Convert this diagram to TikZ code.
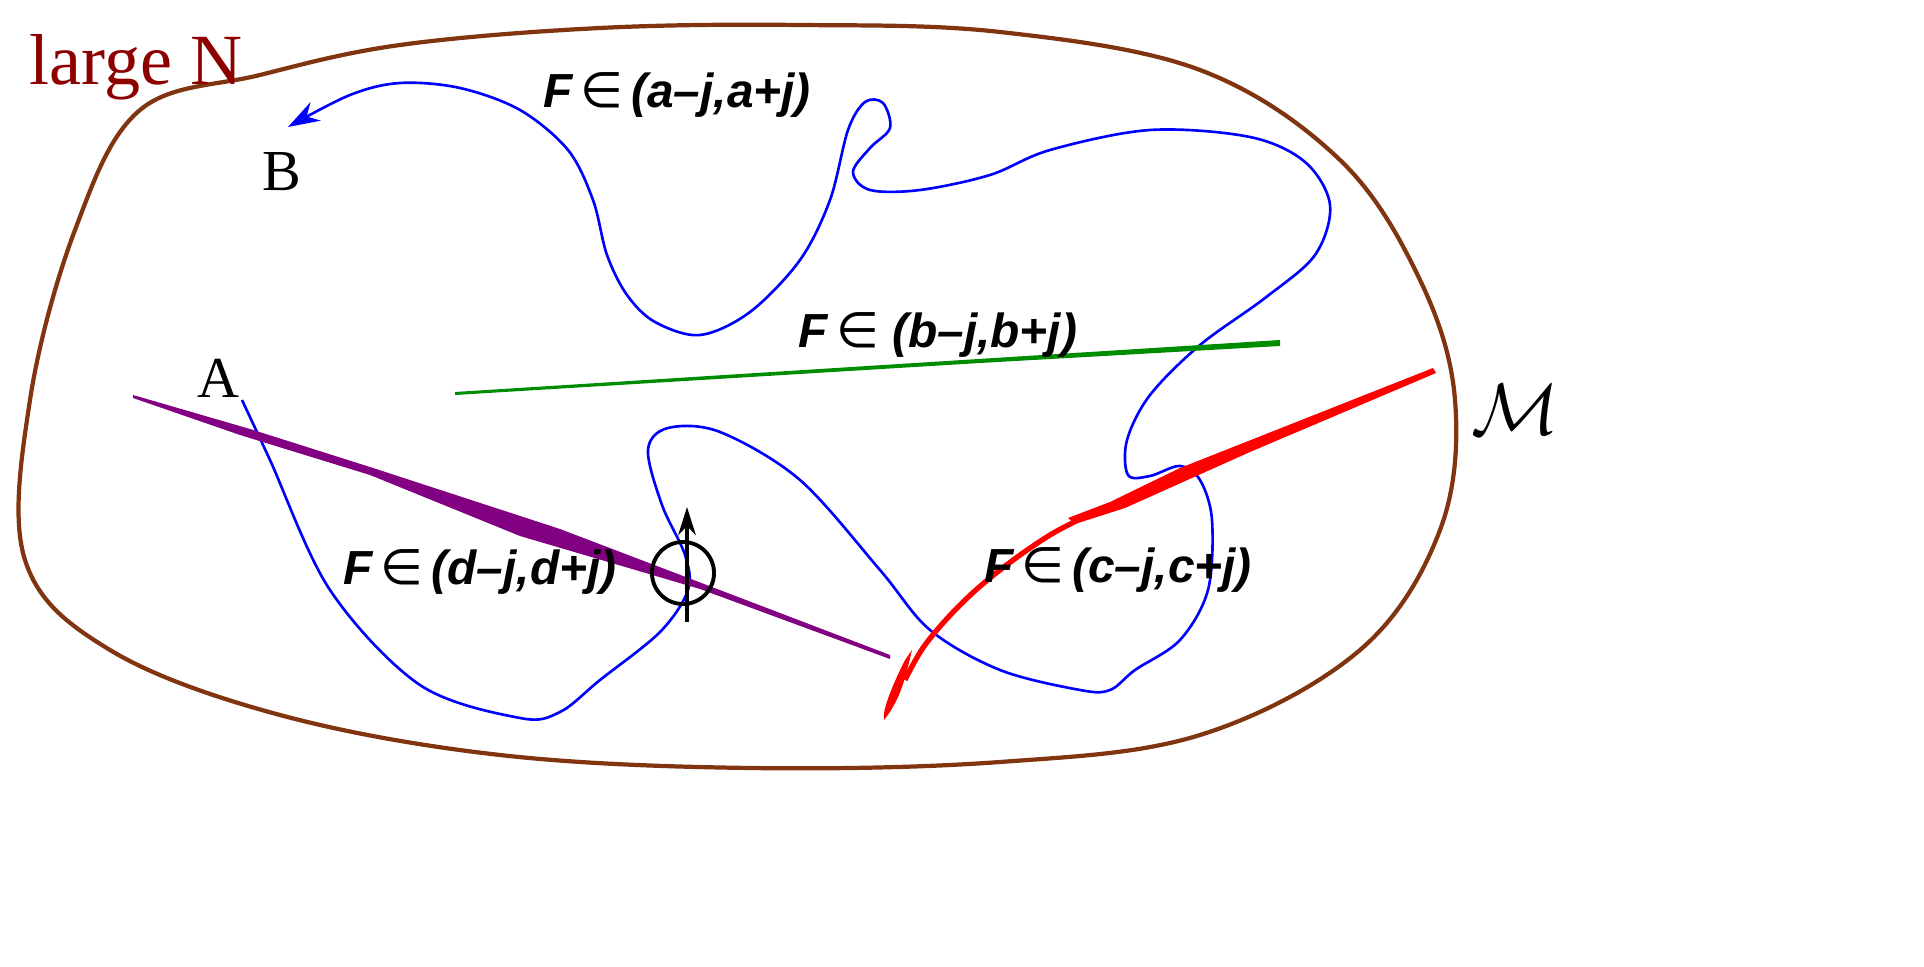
\documentclass[tikz,border=0pt]{standalone}
\usepackage{fontspec}
\setsansfont{Liberation Sans}
\setmainfont{Liberation Serif}
\newfontfamily\dvfont{DejaVu Sans}
\usepackage{amsmath}
\usetikzlibrary{arrows.meta}
\begin{document}
\begin{tikzpicture}[x=0.01cm,y=-0.01cm,
  lab/.style={font=\sffamily\bfseries\itshape\fontsize{13.6}{15}\selectfont},
  pt/.style={font=\fontsize{16.5}{18}\selectfont}]
\useasboundingbox (0,0) rectangle (1924,967);
\definecolor{brn}{RGB}{128,52,16}
\definecolor{dred}{RGB}{140,0,0}
\definecolor{grn}{RGB}{0,140,0}
\definecolor{pur}{RGB}{130,0,130}
\newcommand{\myin}{{\mdseries\dvfont\fontsize{14}{15}\selectfont\char"2208}}
% boundary
\draw[brn,line width=1.2pt] plot[smooth cycle,tension=0.6] coordinates{
 (140,110)(260,75)(400,45)(600,28)(800,25)(1000,32)(1200,70)(1340,160)(1420,280)(1455,400)(1440,530)(1360,650)(1200,735)(1000,762)(750,768)(500,755)(280,715)(110,650)(25,560)(30,400)(75,230)};
% blue path
\draw[blue,line width=0.75pt,-{Stealth[length=9pt,width=6pt]}] plot[smooth,tension=0.55] coordinates{
 (242,400)(270,460)(330,590)(420,685)(520,718)(560,712)(600,680)(660,632)(688,590)(685,555)(662,505)(648,450)(668,428)(720,432)(800,480)(880,570)(930,630)(1000,670)(1080,690)(1110,690)(1135,670)(1180,640)(1208,590)(1212,520)(1200,480)(1180,466)(1150,476)(1128,475)(1127,440)(1150,395)(1200,345)(1265,298)(1315,255)(1330,205)(1305,162)(1250,137)(1150,130)(1050,150)(990,175)(920,190)(870,190)(853,172)(870,148)(890,128)(883,103)(865,102)(848,130)(830,200)(800,260)(750,312)(700,335)(655,322)(627,295)(607,255)(593,200)(568,150)(520,110)(460,88)(400,83)(350,95)(288,127)};
% purple
\fill[pur] (133,395)--(250,429)--(370,467)--(560,529)--(890,655)--(890,659)--(700,589)--(520,536)--(370,475)--(240,435)--(133,398)--cycle;
% green
\fill[grn] (455,392)--(1280,340)--(1280,346)--(980,363)--(455,395)--cycle;
% red upper
\fill[red] (1433,368)--(1436,373)--(1250,452)--(1125,508)--(1075,524)--(1068,518)--(1110,502)--(1180,468)--cycle;
% red lower
\draw[red,line width=1.5pt] plot[smooth,tension=0.6] coordinates{(1095,512)(1050,535)(1000,570)(960,605)(925,645)(905,680)};
\fill[red] (912,650) .. controls (905,680) and (900,700) .. (884,720) .. controls (882,712) and (890,690) .. (905,660) -- cycle;
% circle + arrow
\node[draw,circle,line width=1.1pt,minimum size=6.2mm,inner sep=0pt] (c) at (683,573) {};
\coordinate (s) at (687,622); \coordinate (e) at (687,507);
\draw[line width=1.1pt,-{Stealth[length=8pt,width=5pt]}] (s)--(e);
% labels
\node[dred,font=\fontsize{20.5}{23}\selectfont] (ln) at (136,67) {large N};
\node[pt] (B) at (282,172) {B};
\node[pt] (A) at (218,378) {A};
\node[font=\fontsize{22}{24}\selectfont] (M) at (1515,410) {$\mathcal{M}$};
\node[lab] (la) at (677,95) {F\,\myin\,(a--j,a+j)};
\node[lab] (lb) at (938,335) {F\,\myin\;(b--j,b+j)};
\node[lab] (lc) at (1118,570) {F\,\myin\,(c--j,c+j)};
\node[lab] (ld) at (480,572) {F\,\myin\,(d--j,d+j)};
\end{tikzpicture}
\end{document}
